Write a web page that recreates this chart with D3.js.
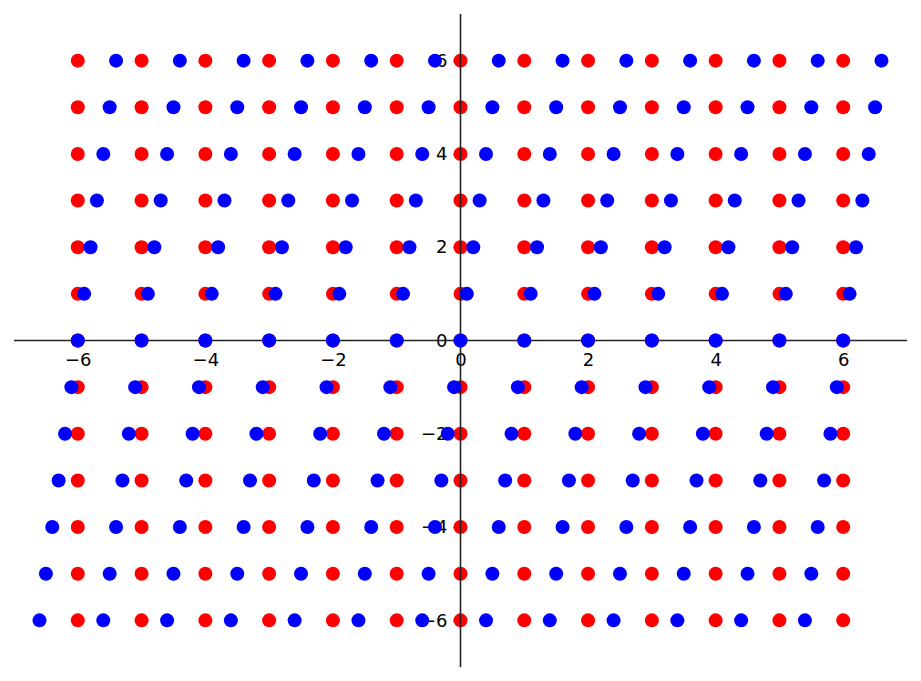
<!DOCTYPE html>
<html>
<head>
<meta charset="utf-8">
<script src="https://cdn.jsdelivr.net/npm/d3@7"></script>
<style>
body { margin: 0; background: #fff; }
svg { display: block; }
</style>
</head>
<body>
<svg id="chart" width="921" height="681"></svg>
<script>
// Grid of original points (red)
const gridX = [-6, -5, -4, -3, -2, -1, 0, 1, 2, 3, 4, 5, 6];
const gridY = [-6, -5, -4, -3, -2, -1, 0, 1, 2, 3, 4, 5, 6];
// Horizontal offset of the transformed (blue) points, one per row of gridY
const rowOffsets = [-0.6, -0.5, -0.4, -0.3, -0.2, -0.1, 0, 0.1, 0.2, 0.3, 0.4, 0.5, 0.6];
// Tick values
const xTicks = [-6, -4, -2, 0, 2, 4, 6];
const yTicks = [-6, -4, -2, 0, 2, 4, 6];
const xDomain = [-7, 7];
const yDomain = [-7, 7];

(function () {
  const redPts = [];
  const bluePts = [];
  gridY.forEach((yv, i) => {
    gridX.forEach(xv => {
      redPts.push({x: xv, y: yv});
      bluePts.push({x: xv + rowOffsets[i], y: yv});
    });
  });

  const svg = d3.select("#chart");
  const mL = 14, mR = 907, mT = 14, mB = 667;
  const x = d3.scaleLinear().domain(xDomain).range([mL, mR]);
  const y = d3.scaleLinear().domain(yDomain).range([mB, mT]);
  const R = 7;
  const fmt = v => String(v).replace("-", "\u2212");

  // ticks and labels (below the markers)
  const xAxis = svg.append("g")
    .attr("transform", `translate(0,${y(0)})`)
    .call(d3.axisBottom(x).tickValues(xTicks).tickFormat(fmt).tickSize(7).tickPadding(6).tickSizeOuter(0));
  const yAxis = svg.append("g")
    .attr("transform", `translate(${x(0)},0)`)
    .call(d3.axisLeft(y).tickValues(yTicks).tickFormat(fmt).tickSize(7).tickPadding(6).tickSizeOuter(0));
  [xAxis, yAxis].forEach(g => {
    g.select(".domain").remove();
    g.selectAll(".tick line").attr("stroke", "#222").attr("stroke-width", 1.6);
    g.selectAll(".tick text").attr("fill", "#000")
      .style("font-family", "'DejaVu Sans', sans-serif").style("font-size", "18px");
  });

  svg.append("g").selectAll("circle").data(redPts).join("circle")
    .attr("cx", d => x(d.x)).attr("cy", d => y(d.y)).attr("r", R).attr("fill", "#ff0000");

  // spines through the origin
  const spines = svg.append("g").attr("stroke", "#222").attr("stroke-width", 1.6);
  spines.append("line").attr("x1", x(xDomain[0])).attr("x2", x(xDomain[1]))
    .attr("y1", y(0)).attr("y2", y(0));
  spines.append("line").attr("x1", x(0)).attr("x2", x(0))
    .attr("y1", y(yDomain[0])).attr("y2", y(yDomain[1]));

  svg.append("g").selectAll("circle").data(bluePts).join("circle")
    .attr("cx", d => x(d.x)).attr("cy", d => y(d.y)).attr("r", R).attr("fill", "#0000ff");
})();
</script>
</body>
</html>
